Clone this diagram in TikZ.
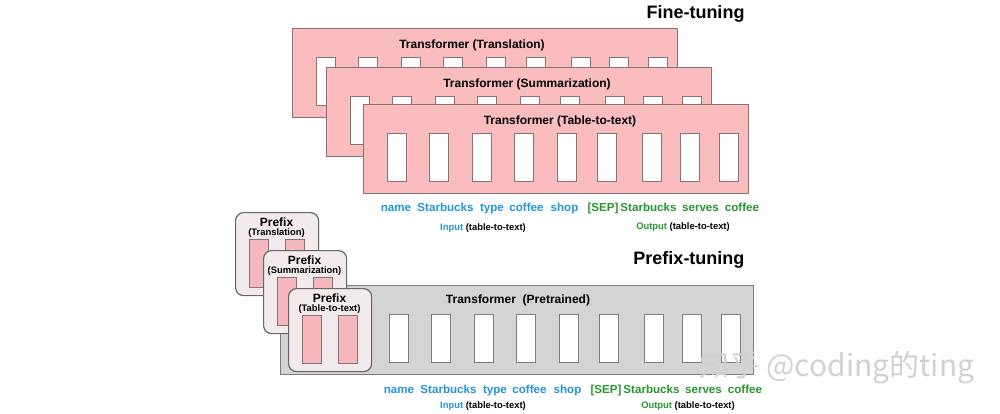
\documentclass[tikz,border=0pt]{standalone}
\usepackage{fontspec}
\setmainfont{Liberation Sans}
\newfontfamily\cjkfont{Noto Sans CJK SC}
\usepackage{xcolor}
\usepackage{tikz}
\usetikzlibrary{calc,positioning}
\definecolor{tunepink}{RGB}{250,188,189}
\definecolor{tuneedge}{RGB}{135,115,115}
\definecolor{pregray}{RGB}{212,212,212}
\definecolor{preedge}{RGB}{125,125,125}
\definecolor{prefill}{RGB}{243,235,235}
\definecolor{slotpink}{RGB}{246,184,188}
\definecolor{wordblue}{RGB}{35,148,218}
\definecolor{wordgreen}{RGB}{40,150,45}

\begin{document}
\begin{tikzpicture}[x=1pt,y=-1pt,
	tbox/.style={draw=tuneedge,fill=tunepink,line width=1.2pt,inner sep=0pt,anchor=north west,minimum width=385pt,minimum height=89pt},
	gbox/.style={draw=preedge,fill=pregray,line width=1.2pt,inner sep=0pt,anchor=north west,minimum width=473pt,minimum height=89pt},
	pbox/.style={draw=black!60,fill=prefill,line width=1.2pt,rounded corners=8pt,inner sep=0pt,anchor=north west,minimum width=83pt,minimum height=83pt},
	slot/.style={draw=tuneedge,fill=white,line width=1pt,inner sep=0pt,anchor=north west,minimum width=19pt,minimum height=48pt},
	pslot/.style={slot,fill=slotpink},
	title/.style={font=\bfseries\fontsize{12}{14}\selectfont},
	word/.style={anchor=base,font=\bfseries\fontsize{11.6}{13}\selectfont},
	lab/.style={anchor=base,font=\bfseries\fontsize{9.4}{11}\selectfont},
	head/.style={anchor=base east,font=\bfseries\fontsize{18}{20}\selectfont}]
	\useasboundingbox (0,0) rectangle (1000,413);
	% fine-tuning: one transformer per task
	\foreach \n/\bx/\by/\txt/\tx in {1/292/28/Translation/472,2/326/67/Summarization/527,3/363/104/Table-to-text/560}{
		\node[tbox] (ft\n) at (\bx,\by) {};
		\foreach \o [count=\i] in {24,66,109,151,194,234,279,317,356}
			\node[slot] (ft\n-\i) at (\bx+\o,\by+29) {};
		\node[title] (ft\n t) at (\tx,\by+17) {Transformer (\txt)};
	}
	\node[head] (fthead) at (748,18.5) {Fine-tuning};
	% prefix-tuning: one frozen transformer
	\node[gbox] (pt) at (280,285) {};
	\foreach \o [count=\i] in {24,66,109,151,194,234,279,317,356}
		\node[slot,draw=preedge] (pt-\i) at (365+\o,314) {};
	\node[title] (ptt) at (518,300) {Transformer\ \ (Pretrained)};
	\foreach \n/\bx/\by/\txt in {1/235/212/Translation,2/263/250/Summarization,3/288/288/Table-to-text}{
		\node[pbox] (pf\n) at (\bx,\by) {};
		\node[pslot] (pf\n-a) at (\bx+14,\by+27) {};
		\node[pslot] (pf\n-b) at (\bx+50,\by+27) {};
		\node[title] (pf\n t) at (\bx+41.5,\by+10) {Prefix};
		\node[font=\bfseries\fontsize{9.4}{11}\selectfont] (pf\n s) at (\bx+41.5,\by+21) {(\txt)};
	}
	\node[head] (pthead) at (748,264.5) {Prefix-tuning};
	% input / output tokens
	\foreach \r/\yb/\xs in {a/211/0,b/393/3}{
		\foreach \w/\x [count=\i] in {name/396,Starbucks/445.5,type/492,coffee/526.5,shop/564.5}
			\node[word,text=wordblue] (w\r-\i) at (\x+\xs,\yb) {\w};
		\foreach \w/\x [count=\i] in {{[SEP]}/603,Starbucks/648.5,serves/700.5,coffee/742}
			\node[word,text=wordgreen] (v\r-\i) at (\x+\xs,\yb) {\w};
	}
	\node[lab] (ina) at (483,230.5) {\textcolor{wordblue}{Input} (table-to-text)};
	\node[lab] (outa) at (683,229.5) {\textcolor{wordgreen}{Output} (table-to-text)};
	\node[lab] (inb) at (483,408.5) {\textcolor{wordblue}{Input} (table-to-text)};
	\node[lab] (outb) at (688,408.5) {\textcolor{wordgreen}{Output} (table-to-text)};
	\node[anchor=west,text=black!18,font=\cjkfont\fontsize{30}{31}\selectfont] (wm) at (696,368) {知乎 @coding的ting};
\end{tikzpicture}
\end{document}
